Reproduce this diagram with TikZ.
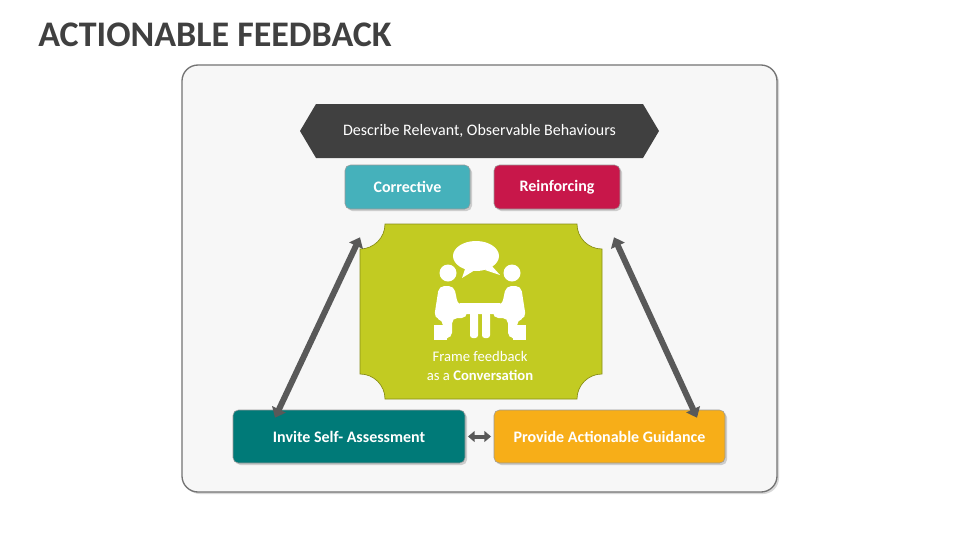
\documentclass[tikz,border=0pt]{standalone}
\usepackage{fontspec}
\setmainfont{Carlito}
\usetikzlibrary{arrows.meta,shadows}
\definecolor{dgray}{HTML}{404040}
\definecolor{agray}{HTML}{595959}
\definecolor{cteal}{HTML}{45B1BB}
\definecolor{cred}{HTML}{C8174A}
\definecolor{cdteal}{HTML}{007A78}
\definecolor{cyel}{HTML}{F7AE18}
\definecolor{cgreen}{HTML}{C2CB22}
\tikzset{
 box/.style={draw=black!40,rounded corners=4pt,text=white,font=\bfseries\fontsize{12}{14}\selectfont,align=center,drop shadow={opacity=0.35,shadow xshift=1.5pt,shadow yshift=-1.5pt}},
 dbl/.style={draw=agray,line width=4.5pt,{Triangle[length=7pt,width=11pt]}-{Triangle[length=7pt,width=11pt]}},
}
\begin{document}
\begin{tikzpicture}[x=0.75pt,y=-0.75pt]
\useasboundingbox (0,0) rectangle (960,540);
\fill[white] (0,0) rectangle (960,540);
\node[anchor=west,font=\bfseries\fontsize{27}{30}\selectfont,text=dgray,inner sep=0] (title) at (38,35) {ACTIONABLE FEEDBACK};
\node[draw=black!55,line width=1pt,fill=black!3,rounded corners=12pt,minimum width=595*0.75pt,minimum height=427*0.75pt,drop shadow={opacity=0.3,shadow xshift=1.5pt,shadow yshift=-1.5pt}] (outer) at (479.5,278.5) {};
% banner
\fill[dgray] (300,131) -- (316,104) -- (643,104) -- (659,131) -- (643,158) -- (316,158) -- cycle;
\node[text=white,font=\fontsize{12}{14}\selectfont] (banner) at (479.5,131) {Describe Relevant, Observable Behaviours};
\node[box,fill=cteal,minimum width=125*0.75pt,minimum height=44*0.75pt] (cor) at (407.5,187) {Corrective};
\node[box,fill=cred,minimum width=126*0.75pt,minimum height=44*0.75pt] (rei) at (557,187) {Reinforcing};
\node[box,fill=cdteal,minimum width=232*0.75pt,minimum height=53*0.75pt] (inv) at (349,436.5) {Invite Self- Assessment};
\node[box,fill=cyel,minimum width=231*0.75pt,minimum height=53*0.75pt] (pro) at (609.5,436.5) {Provide Actionable Guidance};
% plaque
\filldraw[fill=cgreen,draw=cgreen!70!black,line width=0.5pt]
 (385,224) -- (577,224) arc[start angle=180,end angle=90,radius=25] -- (602,374)
 arc[start angle=270,end angle=180,radius=25] -- (385,399)
 arc[start angle=360,end angle=270,radius=25] -- (360,249)
 arc[start angle=90,end angle=0,radius=25] -- cycle;
% icon
\begin{scope}[white]
\fill (476,256) ellipse (23 and 15);
\fill (466,266) -- (462,278) -- (475,270) -- cycle;
\fill (491,265) -- (500,275) -- (485,270) -- cycle;
\fill (448,273) circle (8.5);
\fill (512,273) circle (8.5);
\fill[rounded corners=4pt] (439,286) -- (454,286) -- (458,305) -- (467,307) -- (467,318) -- (452,318) -- (452,338) -- (443,338) -- (443,320) -- (434,318) -- cycle;
\fill[rounded corners=4pt] (521,286) -- (506,286) -- (502,305) -- (493,307) -- (493,318) -- (508,318) -- (508,338) -- (517,338) -- (517,320) -- (526,318) -- cycle;
\fill[rounded corners=2pt] (458,303) rectangle (502,314);
\fill[rounded corners=2pt] (470,312) rectangle (478,338);
\fill[rounded corners=2pt] (482,312) rectangle (490,338);
\fill (434,325) rectangle (447,340);
\fill (513,325) rectangle (526,340);
\end{scope}
\node[text=white,align=center,font=\fontsize{11}{14}\selectfont] (cap) at (480,366) {Frame feedback\\as a \textbf{Conversation}};
% arrows
\draw[dbl] ([shift={(-47.5*0.75pt,-28*0.75pt)}]cor.south) -- ([shift={(-74*0.75pt,-8*0.75pt)}]inv.north);
\draw[dbl] ([shift={(57*0.75pt,-28*0.75pt)}]rei.south) -- ([shift={(87.5*0.75pt,-8*0.75pt)}]pro.north);
\draw[dbl,line width=3pt,{Triangle[length=5pt,width=8pt]}-{Triangle[length=5pt,width=8pt]}] ([xshift=2pt]inv.east) -- ([xshift=-2pt]pro.west);
\end{tikzpicture}
\end{document}
